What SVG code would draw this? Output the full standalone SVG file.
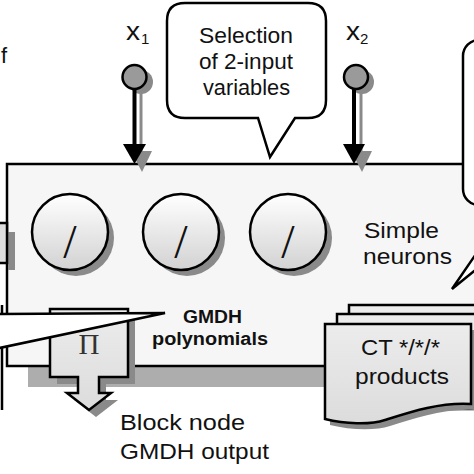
<svg xmlns="http://www.w3.org/2000/svg" width="474" height="474" viewBox="0 0 474 474">
<defs>
<linearGradient id="gCircle" x1="0" y1="0" x2="0" y2="1">
<stop offset="0" stop-color="#ffffff"/><stop offset="1" stop-color="#d2d2d2"/>
</linearGradient>
<linearGradient id="gBlock" x1="0" y1="0" x2="0" y2="1">
<stop offset="0" stop-color="#ececec"/><stop offset="1" stop-color="#dcdcdc"/>
</linearGradient>
<style>
.ln{stroke:#000;stroke-width:2.5;stroke-linejoin:miter}
.sh{fill:#8a8a8a}
.t{font-family:"Liberation Sans",Arial,sans-serif;font-size:22px;fill:#111}
.b{font-family:"Liberation Sans",Arial,sans-serif;font-size:17.5px;font-weight:bold;fill:#111}
.sl{font-family:"Liberation Serif","Times New Roman",serif;font-size:48px;fill:#111;text-anchor:middle}
</style>
</defs>
<rect width="474" height="474" fill="#fff"/>

<g id="main-box">
<rect x="28" y="185" width="500" height="202" fill="#adadad"/>
<rect x="7" y="164" width="500" height="202" fill="#f6f6f6" class="ln"/>
</g>

<g id="left-block">
<rect x="8" y="232" width="7" height="38" class="sh"/>
<rect x="-10" y="223" width="17" height="40" fill="#dedede" class="ln"/>
</g>

<g id="right-box">
<rect x="463" y="40" width="60" height="165" rx="16" fill="#fff" class="ln"/>
</g>

<g id="neuron1">
<circle cx="76" cy="238" r="38" class="sh"/>
<circle cx="70" cy="232" r="38" fill="url(#gCircle)" class="ln"/>
<text class="sl" x="70" y="258">/</text>
</g>
<g id="neuron2">
<circle cx="187" cy="238" r="38" class="sh"/>
<circle cx="181" cy="232" r="38" fill="url(#gCircle)" class="ln"/>
<text class="sl" x="181" y="258">/</text>
</g>
<g id="neuron3">
<circle cx="294" cy="238" r="38" class="sh"/>
<circle cx="288" cy="232" r="38" fill="url(#gCircle)" class="ln"/>
<text class="sl" x="288" y="258">/</text>
</g>

<g id="block-node">
<path d="M50,309 H128 V377 H99 V393 H111 L89,410 L67,393 H78 V377 H50 Z" transform="translate(7,7)" class="sh"/>
<path d="M50,309 H128 V377 H99 V393 H111 L89,410 L67,393 H78 V377 H50 Z" fill="url(#gBlock)" class="ln"/>
<text x="89" y="354" font-family="'Liberation Serif','Times New Roman',serif" font-size="29" fill="#333" text-anchor="middle">Π</text>
</g>

<g id="left-callout">
<line x1="2" y1="305" x2="2" y2="314" class="ln"/>
<line x1="2" y1="347" x2="2" y2="410" class="ln"/>
<polygon points="-10,314 165,313 -10,350" fill="#fff" class="ln"/>
</g>

<g id="gmdh-label">
<text class="b" x="212.5" y="323" text-anchor="middle" textLength="59" lengthAdjust="spacingAndGlyphs">GMDH</text>
<text class="b" x="210" y="345" text-anchor="middle" textLength="116" lengthAdjust="spacingAndGlyphs">polynomials</text>
</g>

<g id="ct-products">
<rect x="349" y="305" width="140" height="95" fill="#ececec" class="ln"/>
<rect x="337" y="314" width="150" height="95" fill="#ececec" class="ln"/>
<path d="M325,324 H471 V404 C440,402 410,412 385,420 C370,425 345,424 325,419 Z" transform="translate(5,6)" class="sh"/>
<path d="M325,324 H471 V404 C440,402 410,412 385,420 C370,425 345,424 325,419 Z" fill="url(#gBlock)" class="ln"/>
<text class="t" x="400.5" y="355" text-anchor="middle" textLength="79" lengthAdjust="spacingAndGlyphs">CT */*/*</text>
<text class="t" x="402" y="384" text-anchor="middle" textLength="94" lengthAdjust="spacingAndGlyphs">products</text>
</g>

<g id="selection-callout">
<path d="M185,3 H308 Q326,3 326,21 V100 Q326,118 308,118 H295 L270,157 L258,118 H185 Q167,118 167,100 V21 Q167,3 185,3 Z" fill="#fff" class="ln"/>
<text class="t" x="246" y="43" text-anchor="middle" textLength="94" lengthAdjust="spacingAndGlyphs">Selection</text>
<text class="t" x="246" y="69" text-anchor="middle" textLength="94" lengthAdjust="spacingAndGlyphs">of 2-input</text>
<text class="t" x="246.5" y="95" text-anchor="middle" textLength="87" lengthAdjust="spacingAndGlyphs">variables</text>
</g>

<g id="neurons-callout">
<polygon points="478,251 452,289 478,268" fill="#fff" class="ln"/>
<text class="t" x="364" y="238" textLength="75" lengthAdjust="spacingAndGlyphs">Simple</text>
<text class="t" x="363" y="264" textLength="89" lengthAdjust="spacingAndGlyphs">neurons</text>
</g>

<g id="output-label">
<text class="t" x="120" y="430" textLength="125" lengthAdjust="spacingAndGlyphs">Block node</text>
<text class="t" x="120" y="459" textLength="149" lengthAdjust="spacingAndGlyphs">GMDH output</text>
</g>

<g id="input-x1">
<circle cx="141" cy="82" r="12" class="sh"/>
<circle cx="134.5" cy="77" r="12" fill="#9a9a9a" class="ln"/>
<text class="t" x="126" y="40" style="font-size:25px" textLength="14" lengthAdjust="spacingAndGlyphs">x</text>
<text class="t" x="141" y="44" style="font-size:15px">1</text>
</g>
<g id="input-x2">
<circle cx="362" cy="82" r="12" class="sh"/>
<circle cx="356" cy="77" r="12" fill="#9a9a9a" class="ln"/>
<text class="t" x="346" y="40" style="font-size:25px" textLength="14" lengthAdjust="spacingAndGlyphs">x</text>
<text class="t" x="360" y="44" style="font-size:15px">2</text>
</g>

<g id="connectors">
<line x1="141" y1="92" x2="141" y2="152" stroke="#8a8a8a" stroke-width="3"/>
<polygon points="131,151 152,151 142,172" fill="#8a8a8a"/>
<line x1="134.5" y1="89" x2="134.5" y2="146" stroke="#000" stroke-width="4"/>
<polygon points="123,144 146,144 134.5,164" fill="#000"/>
<line x1="361" y1="92" x2="361" y2="152" stroke="#8a8a8a" stroke-width="3"/>
<polygon points="351,151 372,151 362,172" fill="#8a8a8a"/>
<line x1="354" y1="89" x2="354" y2="146" stroke="#000" stroke-width="4"/>
<polygon points="343,144 365,144 354,164" fill="#000"/>
</g>

<g id="cut-text">
<text class="t" x="7" y="63" text-anchor="end">f</text>
</g>
</svg>
